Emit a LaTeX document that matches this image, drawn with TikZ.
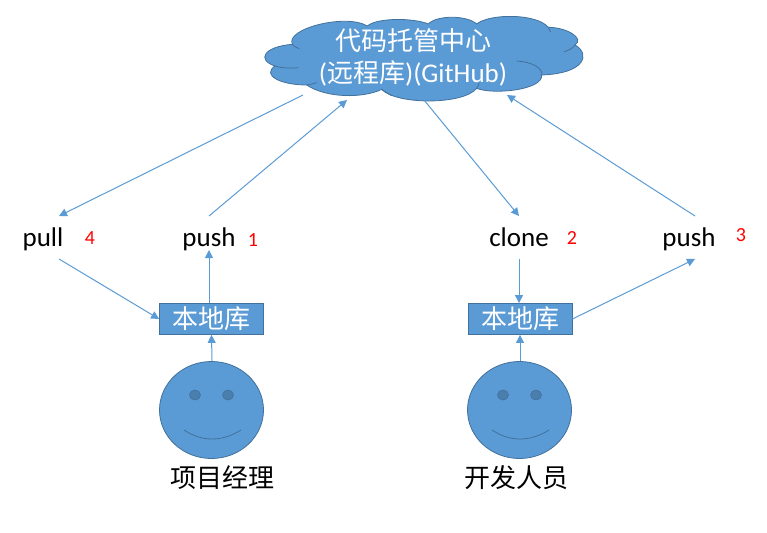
\documentclass[tikz,border=0pt]{standalone}
\usepackage{fontspec}
\setmainfont{Carlito}
\newfontfamily\cjk{Noto Sans CJK SC}
\usetikzlibrary{arrows.meta}
\definecolor{fillblue}{HTML}{5B9BD5}
\definecolor{edgeblue}{HTML}{41719C}
\definecolor{eyeblue}{HTML}{4A7EAD}
\tikzset{
  linkarrow/.style={draw=fillblue,line width=1pt,-{Triangle[width=8pt,length=8pt]}},
  cloudbody/.style={draw=edgeblue,fill=fillblue,line width=0.8pt,line join=round},
  seam/.style={draw=edgeblue,line width=0.8pt},
  boxnode/.style={draw=edgeblue,fill=fillblue,line width=0.8pt,minimum width=104pt,minimum height=31pt,inner sep=0pt,text=white,font=\cjk\fontsize{26}{28}\selectfont},
  facedisc/.style={draw=edgeblue,fill=fillblue,line width=0.8pt},
  eyedisc/.style={draw=edgeblue,fill=eyeblue,line width=0.6pt},
  wordtext/.style={inner sep=0pt,anchor=base,text=black,font=\fontsize{27}{28}\selectfont},
  captext/.style={inner sep=0pt,text=black,font=\cjk\fontsize{26}{28}\selectfont},
  numtext/.style={inner sep=0pt,text=red,font=\fontsize{20}{22}\selectfont},
}
\begin{document}
\begin{tikzpicture}[x=1pt,y=-1pt]
\useasboundingbox (0,0) rectangle (767,532);
% cloud, traced in a 3x frame
\begin{scope}[shift={(250,0)},x=0.33333pt,y=-0.33333pt]
\path[cloudbody] (127,133)
  .. controls (105,85) and (290,40) .. (352,78)
  .. controls (380,53) and (490,53) .. (535,72)
  .. controls (560,45) and (650,45) .. (680,72)
  .. controls (720,40) and (860,40) .. (895,82)
  .. controls (950,82) and (1005,115) .. (975,135)
  .. controls (1020,160) and (1010,220) .. (875,225)
  .. controls (880,270) and (730,285) .. (680,265)
  .. controls (640,315) and (440,315) .. (395,268)
  .. controls (340,295) and (230,295) .. (170,255)
  .. controls (90,255) and (35,225) .. (75,198)
  .. controls (20,180) and (40,140) .. (127,133) -- cycle;
\path[seam] (127,133) .. controls (130,137) and (135,141) .. (148,146);
\path[seam] (75,198) .. controls (95,205) and (125,205) .. (145,203);
\path[seam] (170,255) .. controls (180,253) and (190,252) .. (200,248);
\path[seam] (395,268) .. controls (405,275) and (415,282) .. (425,287);
\path[seam] (680,265) .. controls (683,260) and (686,255) .. (688,248);
\path[seam] (800,183) .. controls (845,185) and (880,205) .. (875,225);
\path[seam] (942,155) .. controls (955,152) and (968,145) .. (975,135);
\path[seam] (895,82) .. controls (898,88) and (900,92) .. (902,96);
\end{scope}
\node[inner sep=0pt,text=white,font=\cjk\fontsize{26}{28}\selectfont] (title1) at (413,41) {代码托管中心};
\node[inner sep=0pt,text=white,font=\fontsize{27}{28}\selectfont] (title2) at (413,73) {(\cjk\fontsize{26}{28}\selectfont 远程库\normalfont\fontsize{27}{28}\selectfont)(GitHub)};
% labels
\node[wordtext] (pull) at (43,246) {pull};
\node[wordtext] (pushA) at (209,246) {push};
\node[wordtext] (clone) at (519,246) {clone};
\node[wordtext] (pushB) at (689,246) {push};
\node[numtext] (n4) at (90,238) {4};
\node[numtext] (n1) at (253,240) {1};
\node[numtext] (n2) at (572,238) {2};
\node[numtext] (n3) at (741,235) {3};
% local repositories
\node[boxnode] (repoA) at (211.5,319) {本地库};
\node[boxnode] (repoB) at (520,319) {本地库};
% people
\path[facedisc] (211.5,410) ellipse [x radius=52,y radius=48.5];
\path[facedisc] (519.5,410) ellipse [x radius=52,y radius=48.5];
\coordinate (faceA) at (212,361);
\coordinate (faceB) at (520,361);
\foreach \fx in {212,520}{
  \path[eyedisc] (\fx-17,395) ellipse [x radius=5.5,y radius=5];
  \path[eyedisc] (\fx+16,395) ellipse [x radius=5.5,y radius=5];
  \path[draw=edgeblue,line width=0.8pt] (\fx-28,430) .. controls (\fx-10,442) and (\fx+10,442) .. (\fx+29,430);
}
\node[captext] (capA) at (222,478) {项目经理};
\node[captext] (capB) at (516,478) {开发人员};
% named ends of the connectors
\coordinate (cloudPull) at (303,95);
\coordinate (cloudPushA) at (347,100);
\coordinate (cloudClone) at (424,100);
\coordinate (cloudPushB) at (507,95);
\coordinate (pullTop) at (59,216);
\coordinate (pullBot) at (59,259);
\coordinate (pushATop) at (209,216);
\coordinate (pushABot) at (209,250);
\coordinate (cloneTop) at (519,216);
\coordinate (cloneBot) at (519,259);
\coordinate (pushBTop) at (695,216);
\coordinate (pushBBot) at (695,259);
\draw[linkarrow] (cloudPull) -- (pullTop);
\draw[linkarrow] (pushATop) -- (cloudPushA);
\draw[linkarrow] (cloudClone) -- (cloneTop);
\draw[linkarrow] (pushBTop) -- (cloudPushB);
\draw[linkarrow] (pullBot) -- (repoA.west);
\draw[linkarrow] (repoA.north -| pushABot) -- (pushABot);
\draw[linkarrow] (cloneBot) -- (repoB.north -| cloneBot);
\draw[linkarrow] (repoB.east) -- (pushBBot);
\draw[linkarrow] (faceA) -- (repoA.south);
\draw[linkarrow] (faceB) -- (repoB.south);
\end{tikzpicture}
\end{document}
